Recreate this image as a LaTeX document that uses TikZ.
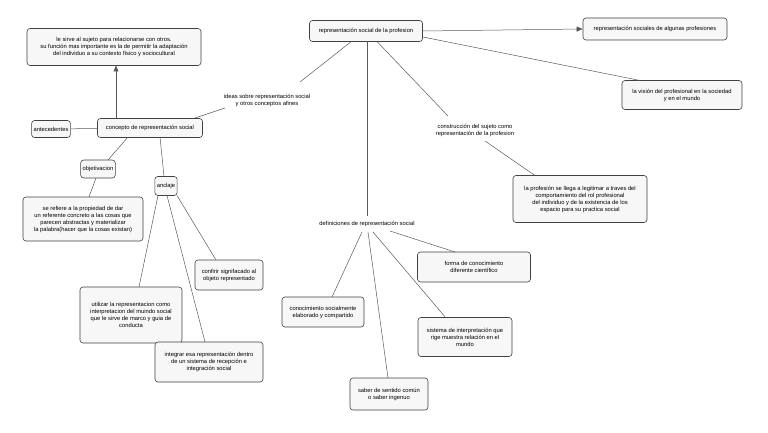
\documentclass[tikz,border=0pt]{standalone}
\usepackage{fontspec}
\setmainfont{Liberation Sans}
\usetikzlibrary{arrows.meta}
\begin{document}
\begin{tikzpicture}[x=1pt,y=-1pt,
  box/.style={draw=black!75,rounded corners=3pt,fill=blue!5!gray!6,align=center,font=\fontsize{5.8}{7}\selectfont,inner sep=2pt,line width=0.6pt},
  lbl/.style={align=center,font=\fontsize{5.8}{7}\selectfont,inner sep=1.5pt},
  ln/.style={draw=black!65,line width=0.5pt},
  arr/.style={ln,-{Triangle[length=6pt,width=5pt]}}]
\useasboundingbox (0,0) rectangle (768,433);
\node[box,minimum width=174pt,minimum height=37pt] (top) at (114,47) {le sirve al sujeto para relacionarse con otros.\\su función mas importante es la de permitir la adaptación\\del individuo a su contexto físico y sociocultural};
\node[box,minimum height=17pt] (ant) at (51,129) {antecedentes};
\node[box,minimum width=105pt,minimum height=19pt] (con) at (150,128) {concepto de representación social};
\node[lbl] (ideas) at (267,100) {ideas sobre representación social\\y otros conceptos afines};
\node[box,minimum height=18pt] (obj) at (98,169) {objetivacion};
\node[box,minimum height=19pt] (anc) at (166,186) {anclaje};
\node[box,minimum width=120pt,minimum height=44pt] (ser) at (83,219) {se refiere a la propiedad de dar\\un referente concreto a las cosas que\\parecen abstractas y materializar\\la palabra(hacer que la cosas existan)};
\node[box,minimum width=68pt,minimum height=30pt] (cnf) at (229,275) {confirir signifacado al\\objeto representado};
\node[box,minimum width=102pt,minimum height=56pt] (uti) at (131,315) {utilizar la representacion como\\interpretacion del muindo social\\que le sirve de marco y guia de\\conducta};
\node[box,minimum width=108pt,minimum height=40pt] (int) at (209,362) {integrar esa representación dentro\\de un sistema de recepción e\\integración social};
\node[box,minimum width=113pt,minimum height=21pt] (rsp) at (366,31) {representación social de la profesion};
\node[box,minimum width=144pt,minimum height=22pt] (alg) at (655,29) {representación sociales de algunas profesiones};
\node[box,minimum width=120pt,minimum height=29pt] (vis) at (682,95) {la visión del profesional en la sociedad\\y en el mundo};
\node[lbl] (cons) at (475,130) {construcción del sujeto como\\representación de la profesion};
\node[box,minimum width=134pt,minimum height=47pt] (lap) at (580,199) {la profesión se llega a legitimar a traves del\\comportamiento del rol profesional\\del individuo y de la existencia de los\\espacio para su practica social};
\node[lbl] (def) at (367,224) {definiciones de representación social};
\node[box,minimum width=113pt,minimum height=30pt] (for) at (474,267) {forma de conocimiento\\diferente científico};
\node[box,minimum width=82pt,minimum height=30pt] (cono) at (323,312) {conocimiento socialmente\\elaborado y compartido};
\node[box,minimum width=94pt,minimum height=39pt] (sis) at (465,337) {sistema de interpretación que\\rige muestra relación en el\\mundo};
\node[box,minimum width=78pt,minimum height=32pt] (sab) at (389,394) {saber de sentido común\\o saber ingenuo};
\coordinate (cT) at (116,118); \coordinate (tB) at (116,65.5);
\coordinate (cI) at (195,118); \coordinate (iC) at (225,108);
\coordinate (iR) at (300,82); \coordinate (rI) at (352,41);
\coordinate (cO) at (128,137); \coordinate (oC) at (108,160);
\coordinate (oS) at (96,178); \coordinate (sO) at (89,197);
\coordinate (cA) at (160,137); \coordinate (aC) at (164,176.5);
\coordinate (aU) at (158,195.5); \coordinate (uA) at (139,287);
\coordinate (aN) at (167,195.5); \coordinate (nA) at (205,342);
\coordinate (aF) at (177,195.5); \coordinate (fA) at (216,260);
\coordinate (rV) at (423,37); \coordinate (vR) at (640,80.5);
\coordinate (rC) at (377,41.5); \coordinate (cR) at (448,116);
\coordinate (cL) at (485,141); \coordinate (lC) at (535,175.5);
\coordinate (rD) at (367,41.5); \coordinate (dR) at (367,216);
\coordinate (dF) at (390,231); \coordinate (fD) at (455,252);
\coordinate (dK) at (362,232); \coordinate (kD) at (332,297);
\coordinate (dS) at (368,232); \coordinate (sD) at (388,378);
\coordinate (dY) at (373,232); \coordinate (yD) at (446,318);
\draw[arr] (cT) -- (tB);
\draw[ln] (ant) -- (con);
\draw[ln] (cI) -- (iC);
\draw[ln] (iR) -- (rI);
\draw[ln] (cO) -- (oC);
\draw[ln] (oS) -- (sO);
\draw[ln] (cA) -- (aC);
\draw[ln] (aU) -- (uA);
\draw[ln] (aN) -- (nA);
\draw[ln] (aF) -- (fA);
\draw[arr] (rsp.east) -- (alg.west);
\draw[ln] (rV) -- (vR);
\draw[ln] (rC) -- (cR);
\draw[ln] (cL) -- (lC);
\draw[ln] (rD) -- (dR);
\draw[ln] (dF) -- (fD);
\draw[ln] (dK) -- (kD);
\draw[ln] (dS) -- (sD);
\draw[ln] (dY) -- (yD);
\end{tikzpicture}
\end{document}
